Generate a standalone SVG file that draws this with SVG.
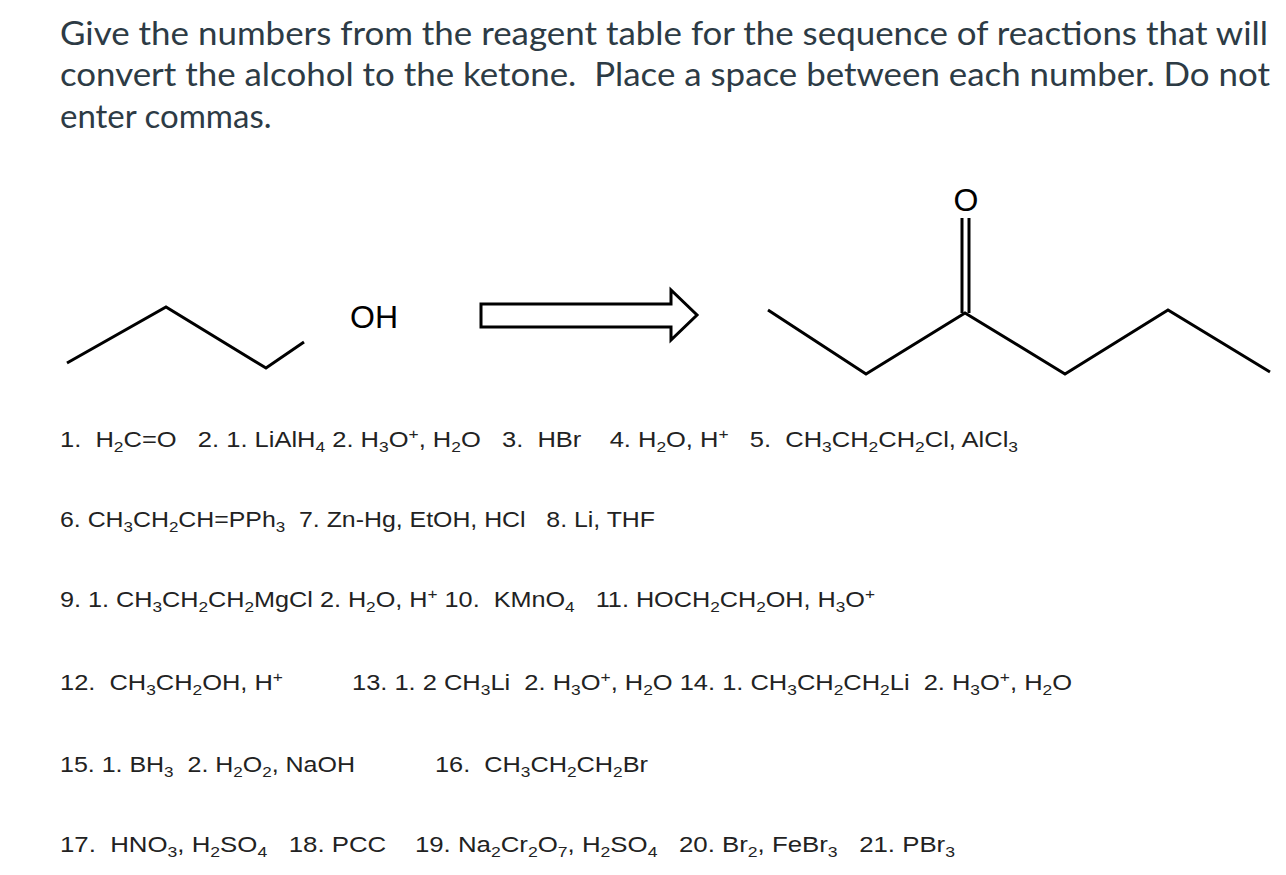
<svg xmlns="http://www.w3.org/2000/svg" width="1286" height="875" viewBox="0 0 1286 875">
<style>
text{white-space:pre}
.h{font-family:Lato,"Liberation Sans",sans-serif;font-size:33px;fill:#2d3b45}
.r{font-family:"Liberation Sans",Arial,sans-serif;font-size:22px;fill:#222}
.b{stroke:#000;stroke-width:3;fill:none;stroke-linejoin:miter}
.a{font-family:"Liberation Sans",Arial,sans-serif;font-size:32px;fill:#000}
</style>
<rect width="1286" height="875" fill="#fff"/>
<text class="h" x="60" y="45" textLength="1208" lengthAdjust="spacingAndGlyphs">Give the numbers from the reagent table for the sequence of reactions that will</text>
<text class="h" x="60" y="86" textLength="1210" lengthAdjust="spacingAndGlyphs">convert the alcohol to the ketone.  Place a space between each number. Do not</text>
<text class="h" x="60" y="128">enter commas.</text>
<g id="alcohol">
<polyline class="b" points="67,363 166,307 266,368 304,342"/>
<text class="a" x="350" y="328">OH</text>
</g>
<g id="arrow">
<path class="b" stroke-width="2.5" d="M481,304 H671 V290 L697,315 L671,340 V327 H481 Z"/>
</g>
<g id="ketone">
<polyline class="b" points="768,310 866,374 965,313 1065,374 1168,310 1270,372"/>
<line class="b" x1="962" y1="218" x2="962" y2="313"/>
<line class="b" x1="969" y1="218" x2="969" y2="313"/>
<text class="a" x="966" y="211" text-anchor="middle">O</text>
</g>
<g class="r">
<text x="60" y="447" textLength="958" lengthAdjust="spacingAndGlyphs">1.  H<tspan font-size="15" dy="5">2</tspan><tspan dy="-5">C=O   2. 1. LiAlH</tspan><tspan font-size="15" dy="5">4</tspan><tspan dy="-5"> 2. H</tspan><tspan font-size="15" dy="5">3</tspan><tspan dy="-5">O</tspan><tspan font-size="15" dy="-8">+</tspan><tspan dy="8">, H</tspan><tspan font-size="15" dy="5">2</tspan><tspan dy="-5">O   3.  HBr    4. H</tspan><tspan font-size="15" dy="5">2</tspan><tspan dy="-5">O, H</tspan><tspan font-size="15" dy="-8">+</tspan><tspan dy="8">   5.  CH</tspan><tspan font-size="15" dy="5">3</tspan><tspan dy="-5">CH</tspan><tspan font-size="15" dy="5">2</tspan><tspan dy="-5">CH</tspan><tspan font-size="15" dy="5">2</tspan><tspan dy="-5">Cl, AlCl</tspan><tspan font-size="15" dy="5">3</tspan></text>
<text x="60" y="527" textLength="595" lengthAdjust="spacingAndGlyphs">6. CH<tspan font-size="15" dy="5">3</tspan><tspan dy="-5">CH</tspan><tspan font-size="15" dy="5">2</tspan><tspan dy="-5">CH=PPh</tspan><tspan font-size="15" dy="5">3</tspan><tspan dy="-5">  7. Zn-Hg, EtOH, HCl   8. Li, THF</tspan></text>
<text x="60" y="607" textLength="815" lengthAdjust="spacingAndGlyphs">9. 1. CH<tspan font-size="15" dy="5">3</tspan><tspan dy="-5">CH</tspan><tspan font-size="15" dy="5">2</tspan><tspan dy="-5">CH</tspan><tspan font-size="15" dy="5">2</tspan><tspan dy="-5">MgCl 2. H</tspan><tspan font-size="15" dy="5">2</tspan><tspan dy="-5">O, H</tspan><tspan font-size="15" dy="-8">+</tspan><tspan dy="8"> 10.  KMnO</tspan><tspan font-size="15" dy="5">4</tspan><tspan dy="-5">   11. HOCH</tspan><tspan font-size="15" dy="5">2</tspan><tspan dy="-5">CH</tspan><tspan font-size="15" dy="5">2</tspan><tspan dy="-5">OH, H</tspan><tspan font-size="15" dy="5">3</tspan><tspan dy="-5">O</tspan><tspan font-size="15" dy="-8">+</tspan></text>
<text x="60" y="690" textLength="223" lengthAdjust="spacingAndGlyphs">12.  CH<tspan font-size="15" dy="5">3</tspan><tspan dy="-5">CH</tspan><tspan font-size="15" dy="5">2</tspan><tspan dy="-5">OH, H</tspan><tspan font-size="15" dy="-8">+</tspan></text>
<text x="352" y="690" textLength="720" lengthAdjust="spacingAndGlyphs">13. 1. 2 CH<tspan font-size="15" dy="5">3</tspan><tspan dy="-5">Li  2. H</tspan><tspan font-size="15" dy="5">3</tspan><tspan dy="-5">O</tspan><tspan font-size="15" dy="-8">+</tspan><tspan dy="8">, H</tspan><tspan font-size="15" dy="5">2</tspan><tspan dy="-5">O 14. 1. CH</tspan><tspan font-size="15" dy="5">3</tspan><tspan dy="-5">CH</tspan><tspan font-size="15" dy="5">2</tspan><tspan dy="-5">CH</tspan><tspan font-size="15" dy="5">2</tspan><tspan dy="-5">Li  2. H</tspan><tspan font-size="15" dy="5">3</tspan><tspan dy="-5">O</tspan><tspan font-size="15" dy="-8">+</tspan><tspan dy="8">, H</tspan><tspan font-size="15" dy="5">2</tspan><tspan dy="-5">O</tspan></text>
<text x="60" y="772" textLength="295" lengthAdjust="spacingAndGlyphs">15. 1. BH<tspan font-size="15" dy="5">3</tspan><tspan dy="-5">  2. H</tspan><tspan font-size="15" dy="5">2</tspan><tspan dy="-5">O</tspan><tspan font-size="15" dy="5">2</tspan><tspan dy="-5">, NaOH</tspan></text>
<text x="435" y="772" textLength="213" lengthAdjust="spacingAndGlyphs">16.  CH<tspan font-size="15" dy="5">3</tspan><tspan dy="-5">CH</tspan><tspan font-size="15" dy="5">2</tspan><tspan dy="-5">CH</tspan><tspan font-size="15" dy="5">2</tspan><tspan dy="-5">Br</tspan></text>
<text x="60" y="852" textLength="895" lengthAdjust="spacingAndGlyphs">17.  HNO<tspan font-size="15" dy="5">3</tspan><tspan dy="-5">, H</tspan><tspan font-size="15" dy="5">2</tspan><tspan dy="-5">SO</tspan><tspan font-size="15" dy="5">4</tspan><tspan dy="-5">   18. PCC    19. Na</tspan><tspan font-size="15" dy="5">2</tspan><tspan dy="-5">Cr</tspan><tspan font-size="15" dy="5">2</tspan><tspan dy="-5">O</tspan><tspan font-size="15" dy="5">7</tspan><tspan dy="-5">, H</tspan><tspan font-size="15" dy="5">2</tspan><tspan dy="-5">SO</tspan><tspan font-size="15" dy="5">4</tspan><tspan dy="-5">   20. Br</tspan><tspan font-size="15" dy="5">2</tspan><tspan dy="-5">, FeBr</tspan><tspan font-size="15" dy="5">3</tspan><tspan dy="-5">   21. PBr</tspan><tspan font-size="15" dy="5">3</tspan></text>
</g>
</svg>
